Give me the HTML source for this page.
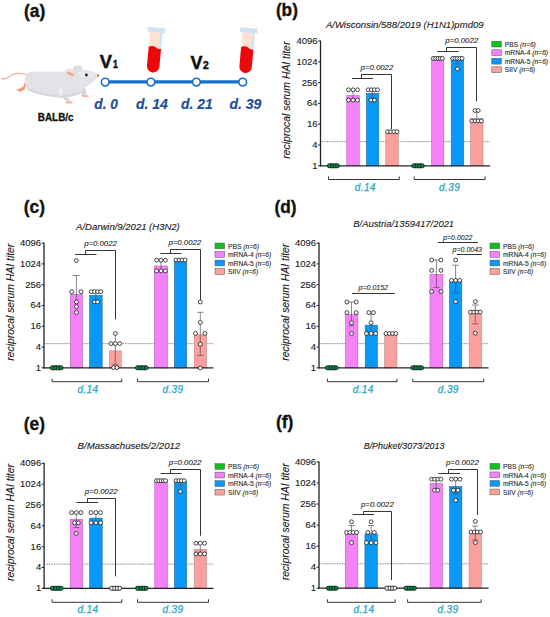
<!DOCTYPE html>
<html><head><meta charset="utf-8"><title>Figure</title>
<style>
html,body{margin:0;padding:0;background:#fff;}
body{width:550px;height:617px;overflow:hidden;}
svg{display:block;font-family:"Liberation Sans",sans-serif;}
</style></head>
<body>
<svg width="550" height="617" viewBox="0 0 550 617">
<rect width="550" height="617" fill="#fff"/>
<text x="24" y="16.5" font-size="17.5" text-anchor="start" font-weight="bold" fill="#111" textLength="21.2" lengthAdjust="spacingAndGlyphs" stroke="#111" stroke-width="0.4">(a)</text>
<g>
<path d="M2,78.4 C4,79.4 6.5,78.6 9,76.6 C11.5,74.6 14,73.4 17.5,73.2 C21,73 24,74.2 28,74.4" fill="none" stroke="#f4a285" stroke-width="1.1" stroke-linecap="round"/>
<path d="M25.2,81 L23.4,86.5 L20.5,88.3 L16.8,89.4 L16.6,90.6 L19.2,90.6 L18.6,92 L21.2,91.6 L24.6,89.2 L26.6,84 Z" fill="#f7956f"/>
<path d="M57.5,87 L63.5,87 L66.5,96.5 L70.5,100.5 L66.5,101.6 L62,97 Z" fill="#d9d9dd"/>
<path d="M65.6,101.2 L72.4,101.3 L72.2,103.6 L66,103.5 Z" fill="#f7b69a"/>
<path d="M79.5,88 L85,87.5 L86.5,95.2 L82,95.4 Z" fill="#d6d6da"/>
<path d="M82,94.9 L88.7,95.2 L88.5,97 L82.2,96.9 Z" fill="#f7b69a"/>
<ellipse cx="77.7" cy="68.4" rx="4.7" ry="2.8" fill="#dcdce0" transform="rotate(-3 77.7 68.4)"/>
<path d="M30,71.8 C36,71.2 44,71.4 50,71.5 L64,71.6 C66,71 68,70.5 70,70.8 L80,69.6 C86,70 91,71 94,72.5 C96,73.2 97.5,74 98.4,75.6 C97.5,78 95.5,80 94,81 C91,83.5 88,85.5 84.5,88 C83,90 82,92 80.5,93.5 C76,95.5 70,97.5 64,97.8 C50,97 38,94.5 30,91.5 C27,89.8 25,86.5 24.8,81 C24.7,76.5 26.5,72.6 30,71.8 Z" fill="#e3e3e7"/>
<path d="M26,86 C32,90.5 42,93.5 56,94.8 C64,95.3 72,94.2 80,91.5 L80.5,93.5 C76,95.5 70,97.5 64,97.8 C50,97 38,94.5 30,91.5 C27.5,89.8 26.4,88 26,86 Z" fill="#d8d8dd"/>
<path d="M59.3,87.2 L62.4,87.2 L62.4,96.4 L59.5,96.2 Z" fill="#eeeef1"/>
<path d="M78,72 C84,71.5 91,72.2 95,74.2 C93,76.5 88,77.5 82,77 C79,76.3 77.5,74 78,72 Z" fill="#e9e9ed"/>
<ellipse cx="69.8" cy="72.2" rx="4.7" ry="3.3" fill="#e7e7eb" stroke="#d6d6da" stroke-width="0.4" transform="rotate(14 69.8 72.2)"/>
<ellipse cx="70.3" cy="73.8" rx="3.9" ry="1.35" fill="#f5a182" transform="rotate(22 70.3 73.8)"/>
<circle cx="86.4" cy="75.0" r="1.4" fill="#1a1a1a"/>
<ellipse cx="98.2" cy="75.5" rx="1.1" ry="1.7" fill="#f0795a"/>
</g>
<text x="37.8" y="120.9" font-size="11.2" text-anchor="start" font-weight="bold" fill="#111" textLength="35.8" lengthAdjust="spacingAndGlyphs" stroke="#111" stroke-width="0.3">BALB/c</text>
<line x1="105.3" y1="81.9" x2="242.7" y2="81.9" stroke="#176fcc" stroke-width="3.4" />
<circle cx="105.2" cy="82.1" r="3.85" fill="#fff" stroke="#176fcc" stroke-width="1.6"/>
<circle cx="150.9" cy="82.1" r="3.85" fill="#fff" stroke="#176fcc" stroke-width="1.6"/>
<circle cx="196.4" cy="82.1" r="3.85" fill="#fff" stroke="#176fcc" stroke-width="1.6"/>
<circle cx="242.7" cy="82.1" r="3.85" fill="#fff" stroke="#176fcc" stroke-width="1.6"/>
<text x="99.7" y="67.6" font-size="18.6" text-anchor="start" font-weight="bold" fill="#111" textLength="12.2" lengthAdjust="spacingAndGlyphs" stroke="#111" stroke-width="0.5">V</text>
<text x="112.9" y="67.6" font-size="10.4" text-anchor="start" font-weight="bold" fill="#111" textLength="4.8" lengthAdjust="spacingAndGlyphs" stroke="#111" stroke-width="0.5">1</text>
<text x="190.6" y="68.7" font-size="18.6" text-anchor="start" font-weight="bold" fill="#111" textLength="12" lengthAdjust="spacingAndGlyphs" stroke="#111" stroke-width="0.5">V</text>
<text x="203" y="68.7" font-size="10.4" text-anchor="start" font-weight="bold" fill="#111" textLength="5.7" lengthAdjust="spacingAndGlyphs" stroke="#111" stroke-width="0.5">2</text>
<text x="94.3" y="108.5" font-size="13.8" text-anchor="start" font-style="italic" font-weight="bold" fill="#1c4f9c" textLength="23.6" lengthAdjust="spacingAndGlyphs" stroke="#1c4f9c" stroke-width="0.2">d. 0</text>
<text x="136" y="108.5" font-size="13.8" text-anchor="start" font-style="italic" font-weight="bold" fill="#1c4f9c" textLength="31.8" lengthAdjust="spacingAndGlyphs" stroke="#1c4f9c" stroke-width="0.2">d. 14</text>
<text x="181" y="108.5" font-size="13.8" text-anchor="start" font-style="italic" font-weight="bold" fill="#1c4f9c" textLength="31.6" lengthAdjust="spacingAndGlyphs" stroke="#1c4f9c" stroke-width="0.2">d. 21</text>
<text x="229.4" y="108.5" font-size="13.8" text-anchor="start" font-style="italic" font-weight="bold" fill="#1c4f9c" textLength="32" lengthAdjust="spacingAndGlyphs" stroke="#1c4f9c" stroke-width="0.2">d. 39</text>
<g transform="translate(156.3,32.2) rotate(5.2)">
<path d="M-6.2,0 L6.2,0 L6.2,34.3 A6.2,6.2 0 0 1 -6.2,34.3 Z" fill="#fde1d3"/>
<path d="M-6.2,15 C-3.2,13.6 -1,13.8 1,15.2 C3,16.6 4.2,16.8 6.2,16.2 L6.2,34.3 A6.2,6.2 0 0 1 -6.2,34.3 Z" fill="#ec0808"/>
<path d="M4.0,0 L6.2,0 L6.2,16.2 L4.0,16.6 Z" fill="#cfe3f4"/>
<rect x="-8.8" y="-4.6" width="17.6" height="4.8" fill="#cfe3f4"/>
</g>
<g transform="translate(248.6,32.6) rotate(5.0)">
<path d="M-6.2,0 L6.2,0 L6.2,34.3 A6.2,6.2 0 0 1 -6.2,34.3 Z" fill="#fde1d3"/>
<path d="M-6.2,15 C-3.2,13.6 -1,13.8 1,15.2 C3,16.6 4.2,16.8 6.2,16.2 L6.2,34.3 A6.2,6.2 0 0 1 -6.2,34.3 Z" fill="#ec0808"/>
<path d="M4.0,0 L6.2,0 L6.2,16.2 L4.0,16.6 Z" fill="#cfe3f4"/>
<rect x="-8.8" y="-4.6" width="17.6" height="4.8" fill="#cfe3f4"/>
</g>
<text x="325.9" y="28.1" font-size="9.5" text-anchor="start" font-style="italic" fill="#1a1a1a" textLength="157.7" lengthAdjust="spacingAndGlyphs" stroke="#1a1a1a" stroke-width="0.12">A/Wisconsin/588/2019 (H1N1)pmd09</text>
<text x="0" y="0" font-size="10.4" font-style="italic" fill="#1a1a1a" stroke="#1a1a1a" stroke-width="0.12" text-anchor="middle" textLength="117" lengthAdjust="spacingAndGlyphs" transform="translate(290.4,100.15) rotate(-90)">reciprocal serum HAI titer</text>
<line x1="318.1" y1="165.8" x2="320.5" y2="165.8" stroke="#222" stroke-width="1.0" />
<text x="317.6" y="168.75" font-size="9.5" text-anchor="end" fill="#1a1a1a" stroke="#1a1a1a" stroke-width="0.12">1</text>
<line x1="318.1" y1="145" x2="320.5" y2="145" stroke="#222" stroke-width="1.0" />
<text x="317.6" y="147.95" font-size="9.5" text-anchor="end" fill="#1a1a1a" stroke="#1a1a1a" stroke-width="0.12">4</text>
<line x1="318.1" y1="124.2" x2="320.5" y2="124.2" stroke="#222" stroke-width="1.0" />
<text x="317.6" y="127.15" font-size="9.5" text-anchor="end" fill="#1a1a1a" stroke="#1a1a1a" stroke-width="0.12">16</text>
<line x1="318.1" y1="103.4" x2="320.5" y2="103.4" stroke="#222" stroke-width="1.0" />
<text x="317.6" y="106.35" font-size="9.5" text-anchor="end" fill="#1a1a1a" stroke="#1a1a1a" stroke-width="0.12">64</text>
<line x1="318.1" y1="82.6" x2="320.5" y2="82.6" stroke="#222" stroke-width="1.0" />
<text x="317.6" y="85.55" font-size="9.5" text-anchor="end" fill="#1a1a1a" stroke="#1a1a1a" stroke-width="0.12">256</text>
<line x1="318.1" y1="61.8" x2="320.5" y2="61.8" stroke="#222" stroke-width="1.0" />
<text x="317.6" y="64.75" font-size="9.5" text-anchor="end" fill="#1a1a1a" stroke="#1a1a1a" stroke-width="0.12">1024</text>
<line x1="318.1" y1="41" x2="320.5" y2="41" stroke="#222" stroke-width="1.0" />
<text x="317.6" y="43.95" font-size="9.5" text-anchor="end" fill="#1a1a1a" stroke="#1a1a1a" stroke-width="0.12">4096</text>
<line x1="320.5" y1="141.65" x2="490.1" y2="141.65" stroke="#6a6a6a" stroke-width="0.9" stroke-dasharray="0.9,0.75"/>
<rect x="346.8" y="95.5" width="12.4" height="70.3" fill="#f582f8" stroke="#a864b0" stroke-width="0.6"/>
<rect x="366.4" y="93.3" width="12.4" height="72.5" fill="#0898f6" stroke="#2a6a9a" stroke-width="0.6"/>
<rect x="385.8" y="132.5" width="12.5" height="33.3" fill="#fca09d" stroke="#b88a88" stroke-width="0.6"/>
<rect x="431.7" y="59.2" width="12.1" height="106.6" fill="#f582f8" stroke="#a864b0" stroke-width="0.6"/>
<rect x="451.2" y="59.2" width="12.4" height="106.6" fill="#0898f6" stroke="#2a6a9a" stroke-width="0.6"/>
<rect x="470.6" y="118.5" width="12.4" height="47.3" fill="#fca09d" stroke="#b88a88" stroke-width="0.6"/>
<line x1="320.5" y1="40.5" x2="320.5" y2="166.4" stroke="#222" stroke-width="1.3" />
<line x1="319.9" y1="165.8" x2="490.1" y2="165.8" stroke="#222" stroke-width="1.3" />
<line x1="353" y1="89.8" x2="353" y2="100.1" stroke="#555" stroke-width="0.7" />
<line x1="372.6" y1="89.8" x2="372.6" y2="100.1" stroke="#555" stroke-width="0.7" />
<line x1="457.4" y1="58.4" x2="457.4" y2="64" stroke="#555" stroke-width="0.7" />
<line x1="454.4" y1="64" x2="460.4" y2="64" stroke="#555" stroke-width="0.7" />
<line x1="476.8" y1="110.5" x2="476.8" y2="118.2" stroke="#555" stroke-width="0.7" />
<circle cx="348.5" cy="89.8" r="1.95" fill="#fff" stroke="#1a1a1a" stroke-width="0.8"/>
<circle cx="353" cy="89.8" r="1.95" fill="#fff" stroke="#1a1a1a" stroke-width="0.8"/>
<circle cx="357.5" cy="89.8" r="1.95" fill="#fff" stroke="#1a1a1a" stroke-width="0.8"/>
<circle cx="348.5" cy="100.1" r="1.95" fill="#fff" stroke="#1a1a1a" stroke-width="0.8"/>
<circle cx="353" cy="100.1" r="1.95" fill="#fff" stroke="#1a1a1a" stroke-width="0.8"/>
<circle cx="357.5" cy="100.1" r="1.95" fill="#fff" stroke="#1a1a1a" stroke-width="0.8"/>
<circle cx="368.2" cy="89.8" r="1.95" fill="#fff" stroke="#1a1a1a" stroke-width="0.8"/>
<circle cx="371.3" cy="89.8" r="1.95" fill="#fff" stroke="#1a1a1a" stroke-width="0.8"/>
<circle cx="374.5" cy="89.8" r="1.95" fill="#fff" stroke="#1a1a1a" stroke-width="0.8"/>
<circle cx="377.6" cy="89.8" r="1.95" fill="#fff" stroke="#1a1a1a" stroke-width="0.8"/>
<circle cx="371" cy="100.1" r="1.95" fill="#fff" stroke="#1a1a1a" stroke-width="0.8"/>
<circle cx="374.4" cy="100.1" r="1.95" fill="#fff" stroke="#1a1a1a" stroke-width="0.8"/>
<circle cx="387.5" cy="131.7" r="1.95" fill="#fff" stroke="#1a1a1a" stroke-width="0.8"/>
<circle cx="390.7" cy="131.7" r="1.95" fill="#fff" stroke="#1a1a1a" stroke-width="0.8"/>
<circle cx="393.9" cy="131.7" r="1.95" fill="#fff" stroke="#1a1a1a" stroke-width="0.8"/>
<circle cx="397" cy="131.7" r="1.95" fill="#fff" stroke="#1a1a1a" stroke-width="0.8"/>
<circle cx="433.4" cy="58.4" r="1.95" fill="#fff" stroke="#1a1a1a" stroke-width="0.8"/>
<circle cx="435.7" cy="58.4" r="1.95" fill="#fff" stroke="#1a1a1a" stroke-width="0.8"/>
<circle cx="438" cy="58.4" r="1.95" fill="#fff" stroke="#1a1a1a" stroke-width="0.8"/>
<circle cx="440.2" cy="58.4" r="1.95" fill="#fff" stroke="#1a1a1a" stroke-width="0.8"/>
<circle cx="442.4" cy="58.4" r="1.95" fill="#fff" stroke="#1a1a1a" stroke-width="0.8"/>
<circle cx="452.6" cy="58.4" r="1.95" fill="#fff" stroke="#1a1a1a" stroke-width="0.8"/>
<circle cx="455" cy="58.4" r="1.95" fill="#fff" stroke="#1a1a1a" stroke-width="0.8"/>
<circle cx="457.4" cy="58.4" r="1.95" fill="#fff" stroke="#1a1a1a" stroke-width="0.8"/>
<circle cx="459.8" cy="58.4" r="1.95" fill="#fff" stroke="#1a1a1a" stroke-width="0.8"/>
<circle cx="462.1" cy="58.4" r="1.95" fill="#fff" stroke="#1a1a1a" stroke-width="0.8"/>
<circle cx="457.4" cy="68.9" r="1.95" fill="#fff" stroke="#1a1a1a" stroke-width="0.8"/>
<circle cx="475" cy="110.5" r="1.95" fill="#fff" stroke="#1a1a1a" stroke-width="0.8"/>
<circle cx="478.2" cy="110.5" r="1.95" fill="#fff" stroke="#1a1a1a" stroke-width="0.8"/>
<circle cx="471.8" cy="120.9" r="1.95" fill="#fff" stroke="#1a1a1a" stroke-width="0.8"/>
<circle cx="475" cy="120.9" r="1.95" fill="#fff" stroke="#1a1a1a" stroke-width="0.8"/>
<circle cx="478.2" cy="120.9" r="1.95" fill="#fff" stroke="#1a1a1a" stroke-width="0.8"/>
<circle cx="481.4" cy="120.9" r="1.95" fill="#fff" stroke="#1a1a1a" stroke-width="0.8"/>
<rect x="327.35" y="163.85" width="12" height="3.9" rx="1.95" fill="#0c8a48" stroke="#0a1a10" stroke-width="0.9"/>
<line x1="330.77" y1="164.05" x2="330.77" y2="167.55" stroke="#0a1a10" stroke-width="0.8" />
<line x1="333.35" y1="164.05" x2="333.35" y2="167.55" stroke="#0a1a10" stroke-width="0.8" />
<line x1="335.93" y1="164.05" x2="335.93" y2="167.55" stroke="#0a1a10" stroke-width="0.8" />
<rect x="411.75" y="163.85" width="12.5" height="3.9" rx="1.95" fill="#0c8a48" stroke="#0a1a10" stroke-width="0.9"/>
<line x1="415.32" y1="164.05" x2="415.32" y2="167.55" stroke="#0a1a10" stroke-width="0.8" />
<line x1="418" y1="164.05" x2="418" y2="167.55" stroke="#0a1a10" stroke-width="0.8" />
<line x1="420.68" y1="164.05" x2="420.68" y2="167.55" stroke="#0a1a10" stroke-width="0.8" />
<polyline points="328.5,176.5 328.5,179.5 399.3,179.5 399.3,176.5" fill="none" stroke="#333" stroke-width="1.0"/>
<text x="365.1" y="190.5" font-size="10" text-anchor="middle" font-style="italic" fill="#27a4c8" textLength="20.6" lengthAdjust="spacing" stroke="#27a4c8" stroke-width="0.25">d.14</text>
<polyline points="414.2,176.5 414.2,179.5 485.1,179.5 485.1,176.5" fill="none" stroke="#333" stroke-width="1.0"/>
<text x="449.4" y="190.5" font-size="10" text-anchor="middle" font-style="italic" fill="#27a4c8" textLength="20.6" lengthAdjust="spacing" stroke="#27a4c8" stroke-width="0.25">d.39</text>
<polyline points="352.1,78.5 373,78.5" fill="none" stroke="#2a2a2a" stroke-width="0.95"/>
<polyline points="361.5,78.5 361.5,74.5 391.5,74.5 391.5,129.2" fill="none" stroke="#2a2a2a" stroke-width="0.95"/>
<text x="376.9" y="70.2" font-size="7.8" text-anchor="middle" font-style="italic" fill="#222" stroke="#222" stroke-width="0.1">p=0.0022</text>
<polyline points="437.2,51.5 458.7,51.5" fill="none" stroke="#2a2a2a" stroke-width="0.95"/>
<polyline points="446.5,51.5 446.5,47.5 476.5,47.5 476.5,101.3" fill="none" stroke="#2a2a2a" stroke-width="0.95"/>
<text x="461.7" y="43.3" font-size="7.8" text-anchor="middle" font-style="italic" fill="#222" stroke="#222" stroke-width="0.1">p=0.0022</text>
<rect x="491.8" y="41.2" width="9.6" height="5.8" fill="#10c020" stroke="#555" stroke-width="0.5"/>
<text x="504.8" y="46.8" font-size="6.7" fill="#2a2a2a" stroke="#2a2a2a" stroke-width="0.12">PBS <tspan font-style="italic">(n=6)</tspan></text>
<rect x="491.8" y="49.75" width="9.6" height="5.8" fill="#f582f8" stroke="#555" stroke-width="0.5"/>
<text x="504.8" y="55.35" font-size="6.7" fill="#2a2a2a" stroke="#2a2a2a" stroke-width="0.12">mRNA-4 <tspan font-style="italic">(n=6)</tspan></text>
<rect x="491.8" y="58.3" width="9.6" height="5.8" fill="#0898f6" stroke="#555" stroke-width="0.5"/>
<text x="504.8" y="63.9" font-size="6.7" fill="#2a2a2a" stroke="#2a2a2a" stroke-width="0.12">mRNA-5 <tspan font-style="italic">(n=6)</tspan></text>
<rect x="491.8" y="66.85" width="9.6" height="5.8" fill="#fca09d" stroke="#555" stroke-width="0.5"/>
<text x="504.8" y="72.45" font-size="6.7" fill="#2a2a2a" stroke="#2a2a2a" stroke-width="0.12">SIIV <tspan font-style="italic">(n=6)</tspan></text>
<text x="76.1" y="230.2" font-size="9.5" text-anchor="start" font-style="italic" fill="#1a1a1a" textLength="103.7" lengthAdjust="spacingAndGlyphs" stroke="#1a1a1a" stroke-width="0.12">A/Darwin/9/2021 (H3N2)</text>
<text x="0" y="0" font-size="10.4" font-style="italic" fill="#1a1a1a" stroke="#1a1a1a" stroke-width="0.12" text-anchor="middle" textLength="117" lengthAdjust="spacingAndGlyphs" transform="translate(13.9,302.2) rotate(-90)">reciprocal serum HAI titer</text>
<line x1="41.6" y1="367.8" x2="44" y2="367.8" stroke="#222" stroke-width="1.0" />
<text x="41.1" y="370.75" font-size="9.5" text-anchor="end" fill="#1a1a1a" stroke="#1a1a1a" stroke-width="0.12">1</text>
<line x1="41.6" y1="347.02" x2="44" y2="347.02" stroke="#222" stroke-width="1.0" />
<text x="41.1" y="349.97" font-size="9.5" text-anchor="end" fill="#1a1a1a" stroke="#1a1a1a" stroke-width="0.12">4</text>
<line x1="41.6" y1="326.23" x2="44" y2="326.23" stroke="#222" stroke-width="1.0" />
<text x="41.1" y="329.18" font-size="9.5" text-anchor="end" fill="#1a1a1a" stroke="#1a1a1a" stroke-width="0.12">16</text>
<line x1="41.6" y1="305.45" x2="44" y2="305.45" stroke="#222" stroke-width="1.0" />
<text x="41.1" y="308.4" font-size="9.5" text-anchor="end" fill="#1a1a1a" stroke="#1a1a1a" stroke-width="0.12">64</text>
<line x1="41.6" y1="284.67" x2="44" y2="284.67" stroke="#222" stroke-width="1.0" />
<text x="41.1" y="287.62" font-size="9.5" text-anchor="end" fill="#1a1a1a" stroke="#1a1a1a" stroke-width="0.12">256</text>
<line x1="41.6" y1="263.88" x2="44" y2="263.88" stroke="#222" stroke-width="1.0" />
<text x="41.1" y="266.83" font-size="9.5" text-anchor="end" fill="#1a1a1a" stroke="#1a1a1a" stroke-width="0.12">1024</text>
<line x1="41.6" y1="243.1" x2="44" y2="243.1" stroke="#222" stroke-width="1.0" />
<text x="41.1" y="246.05" font-size="9.5" text-anchor="end" fill="#1a1a1a" stroke="#1a1a1a" stroke-width="0.12">4096</text>
<line x1="44" y1="343.67" x2="213.4" y2="343.67" stroke="#6a6a6a" stroke-width="0.9" stroke-dasharray="0.9,0.75"/>
<rect x="70.3" y="294.4" width="12.1" height="73.4" fill="#f582f8" stroke="#a864b0" stroke-width="0.6"/>
<rect x="89.6" y="295.3" width="12.6" height="72.5" fill="#0898f6" stroke="#2a6a9a" stroke-width="0.6"/>
<rect x="109.5" y="350.9" width="11.7" height="16.9" fill="#fca09d" stroke="#b88a88" stroke-width="0.6"/>
<rect x="154.4" y="266" width="13" height="101.8" fill="#f582f8" stroke="#a864b0" stroke-width="0.6"/>
<rect x="174.4" y="260.8" width="12.3" height="107" fill="#0898f6" stroke="#2a6a9a" stroke-width="0.6"/>
<rect x="194.2" y="334.8" width="12.3" height="33" fill="#fca09d" stroke="#b88a88" stroke-width="0.6"/>
<line x1="44" y1="242.6" x2="44" y2="368.4" stroke="#222" stroke-width="1.3" />
<line x1="43.4" y1="367.8" x2="213.4" y2="367.8" stroke="#222" stroke-width="1.3" />
<line x1="76.4" y1="275.5" x2="76.4" y2="300" stroke="#555" stroke-width="0.7" />
<line x1="73" y1="275.5" x2="79.8" y2="275.5" stroke="#555" stroke-width="0.7" />
<line x1="95.9" y1="291.7" x2="95.9" y2="301.9" stroke="#555" stroke-width="0.7" />
<line x1="115.3" y1="333.5" x2="115.3" y2="364.4" stroke="#555" stroke-width="0.7" />
<line x1="112.3" y1="364.4" x2="118.3" y2="364.4" stroke="#555" stroke-width="0.7" />
<line x1="161" y1="260.2" x2="161" y2="270.9" stroke="#555" stroke-width="0.7" />
<line x1="200.3" y1="312.3" x2="200.3" y2="355.5" stroke="#555" stroke-width="0.7" />
<line x1="197.1" y1="312.3" x2="203.5" y2="312.3" stroke="#555" stroke-width="0.7" />
<line x1="197.1" y1="355.5" x2="203.5" y2="355.5" stroke="#555" stroke-width="0.7" />
<circle cx="76.4" cy="260.5" r="1.95" fill="#fff" stroke="#1a1a1a" stroke-width="0.8"/>
<circle cx="71.7" cy="291.7" r="1.95" fill="#fff" stroke="#1a1a1a" stroke-width="0.8"/>
<circle cx="81" cy="291.7" r="1.95" fill="#fff" stroke="#1a1a1a" stroke-width="0.8"/>
<circle cx="76.4" cy="301.9" r="1.95" fill="#fff" stroke="#1a1a1a" stroke-width="0.8"/>
<circle cx="76.4" cy="306.6" r="1.95" fill="#fff" stroke="#1a1a1a" stroke-width="0.8"/>
<circle cx="76.4" cy="312.4" r="1.95" fill="#fff" stroke="#1a1a1a" stroke-width="0.8"/>
<circle cx="91.2" cy="291.7" r="1.95" fill="#fff" stroke="#1a1a1a" stroke-width="0.8"/>
<circle cx="94.4" cy="291.7" r="1.95" fill="#fff" stroke="#1a1a1a" stroke-width="0.8"/>
<circle cx="97.6" cy="291.7" r="1.95" fill="#fff" stroke="#1a1a1a" stroke-width="0.8"/>
<circle cx="100.8" cy="291.7" r="1.95" fill="#fff" stroke="#1a1a1a" stroke-width="0.8"/>
<circle cx="94.5" cy="301.9" r="1.95" fill="#fff" stroke="#1a1a1a" stroke-width="0.8"/>
<circle cx="97.6" cy="301.9" r="1.95" fill="#fff" stroke="#1a1a1a" stroke-width="0.8"/>
<circle cx="115.3" cy="333.5" r="1.95" fill="#fff" stroke="#1a1a1a" stroke-width="0.8"/>
<circle cx="111" cy="343.6" r="1.95" fill="#fff" stroke="#1a1a1a" stroke-width="0.8"/>
<circle cx="115.3" cy="343.6" r="1.95" fill="#fff" stroke="#1a1a1a" stroke-width="0.8"/>
<circle cx="119.7" cy="343.6" r="1.95" fill="#fff" stroke="#1a1a1a" stroke-width="0.8"/>
<circle cx="113.6" cy="367.6" r="1.95" fill="#fff" stroke="#1a1a1a" stroke-width="0.8"/>
<circle cx="117" cy="367.6" r="1.95" fill="#fff" stroke="#1a1a1a" stroke-width="0.8"/>
<circle cx="156.6" cy="260.2" r="1.95" fill="#fff" stroke="#1a1a1a" stroke-width="0.8"/>
<circle cx="161" cy="260.2" r="1.95" fill="#fff" stroke="#1a1a1a" stroke-width="0.8"/>
<circle cx="165.4" cy="260.2" r="1.95" fill="#fff" stroke="#1a1a1a" stroke-width="0.8"/>
<circle cx="156.6" cy="270.9" r="1.95" fill="#fff" stroke="#1a1a1a" stroke-width="0.8"/>
<circle cx="161" cy="270.9" r="1.95" fill="#fff" stroke="#1a1a1a" stroke-width="0.8"/>
<circle cx="165.4" cy="270.9" r="1.95" fill="#fff" stroke="#1a1a1a" stroke-width="0.8"/>
<circle cx="176" cy="260" r="1.95" fill="#fff" stroke="#1a1a1a" stroke-width="0.8"/>
<circle cx="179" cy="260" r="1.95" fill="#fff" stroke="#1a1a1a" stroke-width="0.8"/>
<circle cx="182" cy="260" r="1.95" fill="#fff" stroke="#1a1a1a" stroke-width="0.8"/>
<circle cx="185" cy="260" r="1.95" fill="#fff" stroke="#1a1a1a" stroke-width="0.8"/>
<circle cx="200.3" cy="302" r="1.95" fill="#fff" stroke="#1a1a1a" stroke-width="0.8"/>
<circle cx="200.3" cy="322.5" r="1.95" fill="#fff" stroke="#1a1a1a" stroke-width="0.8"/>
<circle cx="195.5" cy="333.4" r="1.95" fill="#fff" stroke="#1a1a1a" stroke-width="0.8"/>
<circle cx="205" cy="333.4" r="1.95" fill="#fff" stroke="#1a1a1a" stroke-width="0.8"/>
<circle cx="200.3" cy="344.1" r="1.95" fill="#fff" stroke="#1a1a1a" stroke-width="0.8"/>
<circle cx="200.3" cy="368" r="1.95" fill="#fff" stroke="#1a1a1a" stroke-width="0.8"/>
<rect x="50.25" y="365.85" width="12.9" height="3.9" rx="1.95" fill="#0c8a48" stroke="#0a1a10" stroke-width="0.9"/>
<line x1="53.94" y1="366.05" x2="53.94" y2="369.55" stroke="#0a1a10" stroke-width="0.8" />
<line x1="56.7" y1="366.05" x2="56.7" y2="369.55" stroke="#0a1a10" stroke-width="0.8" />
<line x1="59.46" y1="366.05" x2="59.46" y2="369.55" stroke="#0a1a10" stroke-width="0.8" />
<rect x="135.45" y="365.85" width="12.7" height="3.9" rx="1.95" fill="#0c8a48" stroke="#0a1a10" stroke-width="0.9"/>
<line x1="139.08" y1="366.05" x2="139.08" y2="369.55" stroke="#0a1a10" stroke-width="0.8" />
<line x1="141.8" y1="366.05" x2="141.8" y2="369.55" stroke="#0a1a10" stroke-width="0.8" />
<line x1="144.52" y1="366.05" x2="144.52" y2="369.55" stroke="#0a1a10" stroke-width="0.8" />
<polyline points="52.1,378.7 52.1,381.7 121.8,381.7 121.8,378.7" fill="none" stroke="#333" stroke-width="1.0"/>
<text x="87.7" y="392.7" font-size="10" text-anchor="middle" font-style="italic" fill="#27a4c8" textLength="20.6" lengthAdjust="spacing" stroke="#27a4c8" stroke-width="0.25">d.14</text>
<polyline points="137.5,378.7 137.5,381.7 208.5,381.7 208.5,378.7" fill="none" stroke="#333" stroke-width="1.0"/>
<text x="172.8" y="392.7" font-size="10" text-anchor="middle" font-style="italic" fill="#27a4c8" textLength="20.6" lengthAdjust="spacing" stroke="#27a4c8" stroke-width="0.25">d.39</text>
<polyline points="75.1,254.5 96.5,254.5" fill="none" stroke="#2a2a2a" stroke-width="0.95"/>
<polyline points="85.5,254.5 85.5,250.5 115.5,250.5 115.5,319.3" fill="none" stroke="#2a2a2a" stroke-width="0.95"/>
<text x="100.5" y="246.3" font-size="7.8" text-anchor="middle" font-style="italic" fill="#222" stroke="#222" stroke-width="0.1">p=0.0022</text>
<polyline points="160.5,253.5 181.4,253.5" fill="none" stroke="#2a2a2a" stroke-width="0.95"/>
<polyline points="170.5,253.5 170.5,249.5 200.5,249.5 200.5,300" fill="none" stroke="#2a2a2a" stroke-width="0.95"/>
<text x="184.8" y="244.7" font-size="7.8" text-anchor="middle" font-style="italic" fill="#222" stroke="#222" stroke-width="0.1">p=0.0022</text>
<rect x="215" y="243" width="9.6" height="5.8" fill="#10c020" stroke="#555" stroke-width="0.5"/>
<text x="228" y="248.6" font-size="6.7" fill="#2a2a2a" stroke="#2a2a2a" stroke-width="0.12">PBS <tspan font-style="italic">(n=6)</tspan></text>
<rect x="215" y="251.55" width="9.6" height="5.8" fill="#f582f8" stroke="#555" stroke-width="0.5"/>
<text x="228" y="257.15" font-size="6.7" fill="#2a2a2a" stroke="#2a2a2a" stroke-width="0.12">mRNA-4 <tspan font-style="italic">(n=6)</tspan></text>
<rect x="215" y="260.1" width="9.6" height="5.8" fill="#0898f6" stroke="#555" stroke-width="0.5"/>
<text x="228" y="265.7" font-size="6.7" fill="#2a2a2a" stroke="#2a2a2a" stroke-width="0.12">mRNA-5 <tspan font-style="italic">(n=6)</tspan></text>
<rect x="215" y="268.65" width="9.6" height="5.8" fill="#fca09d" stroke="#555" stroke-width="0.5"/>
<text x="228" y="274.25" font-size="6.7" fill="#2a2a2a" stroke="#2a2a2a" stroke-width="0.12">SIIV <tspan font-style="italic">(n=6)</tspan></text>
<text x="353.3" y="227" font-size="9.5" text-anchor="start" font-style="italic" fill="#1a1a1a" textLength="100.8" lengthAdjust="spacingAndGlyphs" stroke="#1a1a1a" stroke-width="0.12">B/Austria/1359417/2021</text>
<text x="0" y="0" font-size="10.4" font-style="italic" fill="#1a1a1a" stroke="#1a1a1a" stroke-width="0.12" text-anchor="middle" textLength="117" lengthAdjust="spacingAndGlyphs" transform="translate(288.9,302.2) rotate(-90)">reciprocal serum HAI titer</text>
<line x1="316.6" y1="367.8" x2="319" y2="367.8" stroke="#222" stroke-width="1.0" />
<text x="316.1" y="370.75" font-size="9.5" text-anchor="end" fill="#1a1a1a" stroke="#1a1a1a" stroke-width="0.12">1</text>
<line x1="316.6" y1="347.02" x2="319" y2="347.02" stroke="#222" stroke-width="1.0" />
<text x="316.1" y="349.97" font-size="9.5" text-anchor="end" fill="#1a1a1a" stroke="#1a1a1a" stroke-width="0.12">4</text>
<line x1="316.6" y1="326.23" x2="319" y2="326.23" stroke="#222" stroke-width="1.0" />
<text x="316.1" y="329.18" font-size="9.5" text-anchor="end" fill="#1a1a1a" stroke="#1a1a1a" stroke-width="0.12">16</text>
<line x1="316.6" y1="305.45" x2="319" y2="305.45" stroke="#222" stroke-width="1.0" />
<text x="316.1" y="308.4" font-size="9.5" text-anchor="end" fill="#1a1a1a" stroke="#1a1a1a" stroke-width="0.12">64</text>
<line x1="316.6" y1="284.67" x2="319" y2="284.67" stroke="#222" stroke-width="1.0" />
<text x="316.1" y="287.62" font-size="9.5" text-anchor="end" fill="#1a1a1a" stroke="#1a1a1a" stroke-width="0.12">256</text>
<line x1="316.6" y1="263.88" x2="319" y2="263.88" stroke="#222" stroke-width="1.0" />
<text x="316.1" y="266.83" font-size="9.5" text-anchor="end" fill="#1a1a1a" stroke="#1a1a1a" stroke-width="0.12">1024</text>
<line x1="316.6" y1="243.1" x2="319" y2="243.1" stroke="#222" stroke-width="1.0" />
<text x="316.1" y="246.05" font-size="9.5" text-anchor="end" fill="#1a1a1a" stroke="#1a1a1a" stroke-width="0.12">4096</text>
<line x1="319" y1="343.67" x2="488.6" y2="343.67" stroke="#6a6a6a" stroke-width="0.9" stroke-dasharray="0.9,0.75"/>
<rect x="345.7" y="314.5" width="12.2" height="53.3" fill="#f582f8" stroke="#a864b0" stroke-width="0.6"/>
<rect x="365.2" y="325.2" width="12.2" height="42.6" fill="#0898f6" stroke="#2a6a9a" stroke-width="0.6"/>
<rect x="384.6" y="333.8" width="12.3" height="34" fill="#fca09d" stroke="#b88a88" stroke-width="0.6"/>
<rect x="430" y="274.4" width="12.8" height="93.4" fill="#f582f8" stroke="#a864b0" stroke-width="0.6"/>
<rect x="449.5" y="280.7" width="12.3" height="87.1" fill="#0898f6" stroke="#2a6a9a" stroke-width="0.6"/>
<rect x="469.2" y="312.4" width="12.3" height="55.4" fill="#fca09d" stroke="#b88a88" stroke-width="0.6"/>
<line x1="319" y1="242.6" x2="319" y2="368.4" stroke="#222" stroke-width="1.3" />
<line x1="318.4" y1="367.8" x2="488.6" y2="367.8" stroke="#222" stroke-width="1.3" />
<line x1="351.5" y1="302" x2="351.5" y2="325.8" stroke="#555" stroke-width="0.7" />
<line x1="348.5" y1="302" x2="354.5" y2="302" stroke="#555" stroke-width="0.7" />
<line x1="348.5" y1="325.8" x2="354.5" y2="325.8" stroke="#555" stroke-width="0.7" />
<line x1="371.1" y1="312.6" x2="371.1" y2="333.5" stroke="#555" stroke-width="0.7" />
<line x1="436.4" y1="260" x2="436.4" y2="287.5" stroke="#555" stroke-width="0.7" />
<line x1="433.2" y1="260" x2="439.6" y2="260" stroke="#555" stroke-width="0.7" />
<line x1="433.2" y1="287.5" x2="439.6" y2="287.5" stroke="#555" stroke-width="0.7" />
<line x1="455.6" y1="265.2" x2="455.6" y2="292.9" stroke="#555" stroke-width="0.7" />
<line x1="452.4" y1="265.2" x2="458.8" y2="265.2" stroke="#555" stroke-width="0.7" />
<line x1="452.4" y1="292.9" x2="458.8" y2="292.9" stroke="#555" stroke-width="0.7" />
<line x1="475.3" y1="305" x2="475.3" y2="323.9" stroke="#555" stroke-width="0.7" />
<line x1="472.1" y1="305" x2="478.5" y2="305" stroke="#555" stroke-width="0.7" />
<line x1="472.1" y1="323.9" x2="478.5" y2="323.9" stroke="#555" stroke-width="0.7" />
<circle cx="346.9" cy="302" r="1.95" fill="#fff" stroke="#1a1a1a" stroke-width="0.8"/>
<circle cx="356.2" cy="302" r="1.95" fill="#fff" stroke="#1a1a1a" stroke-width="0.8"/>
<circle cx="346.9" cy="312.6" r="1.95" fill="#fff" stroke="#1a1a1a" stroke-width="0.8"/>
<circle cx="356.2" cy="312.6" r="1.95" fill="#fff" stroke="#1a1a1a" stroke-width="0.8"/>
<circle cx="351.5" cy="322.8" r="1.95" fill="#fff" stroke="#1a1a1a" stroke-width="0.8"/>
<circle cx="351.5" cy="333.5" r="1.95" fill="#fff" stroke="#1a1a1a" stroke-width="0.8"/>
<circle cx="368.9" cy="312.6" r="1.95" fill="#fff" stroke="#1a1a1a" stroke-width="0.8"/>
<circle cx="373.4" cy="312.6" r="1.95" fill="#fff" stroke="#1a1a1a" stroke-width="0.8"/>
<circle cx="371.1" cy="322.8" r="1.95" fill="#fff" stroke="#1a1a1a" stroke-width="0.8"/>
<circle cx="366.5" cy="333.5" r="1.95" fill="#fff" stroke="#1a1a1a" stroke-width="0.8"/>
<circle cx="371.1" cy="333.5" r="1.95" fill="#fff" stroke="#1a1a1a" stroke-width="0.8"/>
<circle cx="375.7" cy="333.5" r="1.95" fill="#fff" stroke="#1a1a1a" stroke-width="0.8"/>
<circle cx="386" cy="333.5" r="1.95" fill="#fff" stroke="#1a1a1a" stroke-width="0.8"/>
<circle cx="389.3" cy="333.5" r="1.95" fill="#fff" stroke="#1a1a1a" stroke-width="0.8"/>
<circle cx="392.6" cy="333.5" r="1.95" fill="#fff" stroke="#1a1a1a" stroke-width="0.8"/>
<circle cx="395.8" cy="333.5" r="1.95" fill="#fff" stroke="#1a1a1a" stroke-width="0.8"/>
<circle cx="431.6" cy="260" r="1.95" fill="#fff" stroke="#1a1a1a" stroke-width="0.8"/>
<circle cx="441" cy="260" r="1.95" fill="#fff" stroke="#1a1a1a" stroke-width="0.8"/>
<circle cx="431.6" cy="270.4" r="1.95" fill="#fff" stroke="#1a1a1a" stroke-width="0.8"/>
<circle cx="441" cy="270.4" r="1.95" fill="#fff" stroke="#1a1a1a" stroke-width="0.8"/>
<circle cx="431.6" cy="291.5" r="1.95" fill="#fff" stroke="#1a1a1a" stroke-width="0.8"/>
<circle cx="441" cy="291.5" r="1.95" fill="#fff" stroke="#1a1a1a" stroke-width="0.8"/>
<circle cx="455.6" cy="260" r="1.95" fill="#fff" stroke="#1a1a1a" stroke-width="0.8"/>
<circle cx="451.5" cy="280.4" r="1.95" fill="#fff" stroke="#1a1a1a" stroke-width="0.8"/>
<circle cx="455.6" cy="280.4" r="1.95" fill="#fff" stroke="#1a1a1a" stroke-width="0.8"/>
<circle cx="459.6" cy="280.4" r="1.95" fill="#fff" stroke="#1a1a1a" stroke-width="0.8"/>
<circle cx="455.6" cy="301.6" r="1.95" fill="#fff" stroke="#1a1a1a" stroke-width="0.8"/>
<circle cx="475.3" cy="301.6" r="1.95" fill="#fff" stroke="#1a1a1a" stroke-width="0.8"/>
<circle cx="470.6" cy="312.1" r="1.95" fill="#fff" stroke="#1a1a1a" stroke-width="0.8"/>
<circle cx="473.8" cy="312.1" r="1.95" fill="#fff" stroke="#1a1a1a" stroke-width="0.8"/>
<circle cx="477" cy="312.1" r="1.95" fill="#fff" stroke="#1a1a1a" stroke-width="0.8"/>
<circle cx="480.2" cy="312.1" r="1.95" fill="#fff" stroke="#1a1a1a" stroke-width="0.8"/>
<circle cx="475.3" cy="333.2" r="1.95" fill="#fff" stroke="#1a1a1a" stroke-width="0.8"/>
<rect x="325.45" y="365.85" width="12.7" height="3.9" rx="1.95" fill="#0c8a48" stroke="#0a1a10" stroke-width="0.9"/>
<line x1="329.08" y1="366.05" x2="329.08" y2="369.55" stroke="#0a1a10" stroke-width="0.8" />
<line x1="331.8" y1="366.05" x2="331.8" y2="369.55" stroke="#0a1a10" stroke-width="0.8" />
<line x1="334.52" y1="366.05" x2="334.52" y2="369.55" stroke="#0a1a10" stroke-width="0.8" />
<rect x="410.85" y="365.85" width="12.7" height="3.9" rx="1.95" fill="#0c8a48" stroke="#0a1a10" stroke-width="0.9"/>
<line x1="414.48" y1="366.05" x2="414.48" y2="369.55" stroke="#0a1a10" stroke-width="0.8" />
<line x1="417.2" y1="366.05" x2="417.2" y2="369.55" stroke="#0a1a10" stroke-width="0.8" />
<line x1="419.92" y1="366.05" x2="419.92" y2="369.55" stroke="#0a1a10" stroke-width="0.8" />
<polyline points="327.4,378.7 327.4,381.7 397,381.7 397,378.7" fill="none" stroke="#333" stroke-width="1.0"/>
<text x="363" y="392.7" font-size="10" text-anchor="middle" font-style="italic" fill="#27a4c8" textLength="20.6" lengthAdjust="spacing" stroke="#27a4c8" stroke-width="0.25">d.14</text>
<polyline points="412.8,378.7 412.8,381.7 483.8,381.7 483.8,378.7" fill="none" stroke="#333" stroke-width="1.0"/>
<text x="448.1" y="392.7" font-size="10" text-anchor="middle" font-style="italic" fill="#27a4c8" textLength="20.6" lengthAdjust="spacing" stroke="#27a4c8" stroke-width="0.25">d.39</text>
<polyline points="352,293.5 394.9,293.5" fill="none" stroke="#2a2a2a" stroke-width="0.95"/>
<text x="373.3" y="289.9" font-size="7.0" text-anchor="middle" font-style="italic" fill="#222" stroke="#222" stroke-width="0.1">p=0.0152</text>
<polyline points="437.9,242.5 477.8,242.5" fill="none" stroke="#2a2a2a" stroke-width="0.95"/>
<text x="457.8" y="239.8" font-size="7.0" text-anchor="middle" font-style="italic" fill="#222" stroke="#222" stroke-width="0.1">p=0.0022</text>
<polyline points="456.7,254.5 482,254.5" fill="none" stroke="#2a2a2a" stroke-width="0.95"/>
<text x="467.3" y="251.5" font-size="7.0" text-anchor="middle" font-style="italic" fill="#222" stroke="#222" stroke-width="0.1">p=0.0043</text>
<rect x="490" y="243" width="9.6" height="5.8" fill="#10c020" stroke="#555" stroke-width="0.5"/>
<text x="503" y="248.6" font-size="6.7" fill="#2a2a2a" stroke="#2a2a2a" stroke-width="0.12">PBS <tspan font-style="italic">(n=6)</tspan></text>
<rect x="490" y="251.55" width="9.6" height="5.8" fill="#f582f8" stroke="#555" stroke-width="0.5"/>
<text x="503" y="257.15" font-size="6.7" fill="#2a2a2a" stroke="#2a2a2a" stroke-width="0.12">mRNA-4 <tspan font-style="italic">(n=6)</tspan></text>
<rect x="490" y="260.1" width="9.6" height="5.8" fill="#0898f6" stroke="#555" stroke-width="0.5"/>
<text x="503" y="265.7" font-size="6.7" fill="#2a2a2a" stroke="#2a2a2a" stroke-width="0.12">mRNA-5 <tspan font-style="italic">(n=6)</tspan></text>
<rect x="490" y="268.65" width="9.6" height="5.8" fill="#fca09d" stroke="#555" stroke-width="0.5"/>
<text x="503" y="274.25" font-size="6.7" fill="#2a2a2a" stroke="#2a2a2a" stroke-width="0.12">SIIV <tspan font-style="italic">(n=6)</tspan></text>
<text x="77.6" y="448.5" font-size="9.5" text-anchor="start" font-style="italic" fill="#1a1a1a" textLength="102.6" lengthAdjust="spacingAndGlyphs" stroke="#1a1a1a" stroke-width="0.12">B/Massachusets/2/2012</text>
<text x="0" y="0" font-size="10.4" font-style="italic" fill="#1a1a1a" stroke="#1a1a1a" stroke-width="0.12" text-anchor="middle" textLength="117" lengthAdjust="spacingAndGlyphs" transform="translate(14,522.55) rotate(-90)">reciprocal serum HAI titer</text>
<line x1="41.7" y1="588.3" x2="44.1" y2="588.3" stroke="#222" stroke-width="1.0" />
<text x="41.2" y="591.25" font-size="9.5" text-anchor="end" fill="#1a1a1a" stroke="#1a1a1a" stroke-width="0.12">1</text>
<line x1="41.7" y1="567.47" x2="44.1" y2="567.47" stroke="#222" stroke-width="1.0" />
<text x="41.2" y="570.42" font-size="9.5" text-anchor="end" fill="#1a1a1a" stroke="#1a1a1a" stroke-width="0.12">4</text>
<line x1="41.7" y1="546.63" x2="44.1" y2="546.63" stroke="#222" stroke-width="1.0" />
<text x="41.2" y="549.58" font-size="9.5" text-anchor="end" fill="#1a1a1a" stroke="#1a1a1a" stroke-width="0.12">16</text>
<line x1="41.7" y1="525.8" x2="44.1" y2="525.8" stroke="#222" stroke-width="1.0" />
<text x="41.2" y="528.75" font-size="9.5" text-anchor="end" fill="#1a1a1a" stroke="#1a1a1a" stroke-width="0.12">64</text>
<line x1="41.7" y1="504.97" x2="44.1" y2="504.97" stroke="#222" stroke-width="1.0" />
<text x="41.2" y="507.92" font-size="9.5" text-anchor="end" fill="#1a1a1a" stroke="#1a1a1a" stroke-width="0.12">256</text>
<line x1="41.7" y1="484.13" x2="44.1" y2="484.13" stroke="#222" stroke-width="1.0" />
<text x="41.2" y="487.08" font-size="9.5" text-anchor="end" fill="#1a1a1a" stroke="#1a1a1a" stroke-width="0.12">1024</text>
<line x1="41.7" y1="463.3" x2="44.1" y2="463.3" stroke="#222" stroke-width="1.0" />
<text x="41.2" y="466.25" font-size="9.5" text-anchor="end" fill="#1a1a1a" stroke="#1a1a1a" stroke-width="0.12">4096</text>
<line x1="44.1" y1="564.11" x2="213.5" y2="564.11" stroke="#6a6a6a" stroke-width="0.9" stroke-dasharray="0.9,0.75"/>
<rect x="70.2" y="519.4" width="12.4" height="68.9" fill="#f582f8" stroke="#a864b0" stroke-width="0.6"/>
<rect x="89.7" y="518.1" width="12.5" height="70.2" fill="#0898f6" stroke="#2a6a9a" stroke-width="0.6"/>
<rect x="154.8" y="481.4" width="12.6" height="106.9" fill="#f582f8" stroke="#a864b0" stroke-width="0.6"/>
<rect x="174.4" y="481.2" width="12.3" height="107.1" fill="#0898f6" stroke="#2a6a9a" stroke-width="0.6"/>
<rect x="194.2" y="549.6" width="12.3" height="38.7" fill="#fca09d" stroke="#b88a88" stroke-width="0.6"/>
<line x1="44.1" y1="462.8" x2="44.1" y2="588.9" stroke="#222" stroke-width="1.3" />
<line x1="43.5" y1="588.3" x2="213.5" y2="588.3" stroke="#222" stroke-width="1.3" />
<line x1="76.3" y1="512.6" x2="76.3" y2="527.5" stroke="#555" stroke-width="0.7" />
<line x1="73.3" y1="527.5" x2="79.3" y2="527.5" stroke="#555" stroke-width="0.7" />
<line x1="95.9" y1="512.6" x2="95.9" y2="522.8" stroke="#555" stroke-width="0.7" />
<line x1="180.5" y1="480.7" x2="180.5" y2="485.7" stroke="#555" stroke-width="0.7" />
<line x1="177.5" y1="485.7" x2="183.5" y2="485.7" stroke="#555" stroke-width="0.7" />
<line x1="200.3" y1="543.2" x2="200.3" y2="553.9" stroke="#555" stroke-width="0.7" />
<circle cx="71.6" cy="512.6" r="1.95" fill="#fff" stroke="#1a1a1a" stroke-width="0.8"/>
<circle cx="76.3" cy="512.6" r="1.95" fill="#fff" stroke="#1a1a1a" stroke-width="0.8"/>
<circle cx="81" cy="512.6" r="1.95" fill="#fff" stroke="#1a1a1a" stroke-width="0.8"/>
<circle cx="74.5" cy="522.8" r="1.95" fill="#fff" stroke="#1a1a1a" stroke-width="0.8"/>
<circle cx="78.3" cy="522.8" r="1.95" fill="#fff" stroke="#1a1a1a" stroke-width="0.8"/>
<circle cx="76.3" cy="533.4" r="1.95" fill="#fff" stroke="#1a1a1a" stroke-width="0.8"/>
<circle cx="91.1" cy="512.6" r="1.95" fill="#fff" stroke="#1a1a1a" stroke-width="0.8"/>
<circle cx="95.9" cy="512.6" r="1.95" fill="#fff" stroke="#1a1a1a" stroke-width="0.8"/>
<circle cx="100.6" cy="512.6" r="1.95" fill="#fff" stroke="#1a1a1a" stroke-width="0.8"/>
<circle cx="91.1" cy="522.8" r="1.95" fill="#fff" stroke="#1a1a1a" stroke-width="0.8"/>
<circle cx="95.9" cy="522.8" r="1.95" fill="#fff" stroke="#1a1a1a" stroke-width="0.8"/>
<circle cx="100.6" cy="522.8" r="1.95" fill="#fff" stroke="#1a1a1a" stroke-width="0.8"/>
<circle cx="156.5" cy="480.7" r="1.95" fill="#fff" stroke="#1a1a1a" stroke-width="0.8"/>
<circle cx="158.8" cy="480.7" r="1.95" fill="#fff" stroke="#1a1a1a" stroke-width="0.8"/>
<circle cx="161.1" cy="480.7" r="1.95" fill="#fff" stroke="#1a1a1a" stroke-width="0.8"/>
<circle cx="163.4" cy="480.7" r="1.95" fill="#fff" stroke="#1a1a1a" stroke-width="0.8"/>
<circle cx="165.6" cy="480.7" r="1.95" fill="#fff" stroke="#1a1a1a" stroke-width="0.8"/>
<circle cx="176.1" cy="480.7" r="1.95" fill="#fff" stroke="#1a1a1a" stroke-width="0.8"/>
<circle cx="178.8" cy="480.7" r="1.95" fill="#fff" stroke="#1a1a1a" stroke-width="0.8"/>
<circle cx="181.4" cy="480.7" r="1.95" fill="#fff" stroke="#1a1a1a" stroke-width="0.8"/>
<circle cx="184.2" cy="480.7" r="1.95" fill="#fff" stroke="#1a1a1a" stroke-width="0.8"/>
<circle cx="180.3" cy="491.4" r="1.95" fill="#fff" stroke="#1a1a1a" stroke-width="0.8"/>
<circle cx="196" cy="543.2" r="1.95" fill="#fff" stroke="#1a1a1a" stroke-width="0.8"/>
<circle cx="200.3" cy="543.2" r="1.95" fill="#fff" stroke="#1a1a1a" stroke-width="0.8"/>
<circle cx="204.6" cy="543.2" r="1.95" fill="#fff" stroke="#1a1a1a" stroke-width="0.8"/>
<circle cx="196" cy="553.9" r="1.95" fill="#fff" stroke="#1a1a1a" stroke-width="0.8"/>
<circle cx="200.3" cy="553.9" r="1.95" fill="#fff" stroke="#1a1a1a" stroke-width="0.8"/>
<circle cx="204.6" cy="553.9" r="1.95" fill="#fff" stroke="#1a1a1a" stroke-width="0.8"/>
<rect x="50.25" y="586.35" width="12.9" height="3.9" rx="1.95" fill="#0c8a48" stroke="#0a1a10" stroke-width="0.9"/>
<line x1="53.94" y1="586.55" x2="53.94" y2="590.05" stroke="#0a1a10" stroke-width="0.8" />
<line x1="56.7" y1="586.55" x2="56.7" y2="590.05" stroke="#0a1a10" stroke-width="0.8" />
<line x1="59.46" y1="586.55" x2="59.46" y2="590.05" stroke="#0a1a10" stroke-width="0.8" />
<rect x="135.45" y="586.35" width="12.7" height="3.9" rx="1.95" fill="#0c8a48" stroke="#0a1a10" stroke-width="0.9"/>
<line x1="139.08" y1="586.55" x2="139.08" y2="590.05" stroke="#0a1a10" stroke-width="0.8" />
<line x1="141.8" y1="586.55" x2="141.8" y2="590.05" stroke="#0a1a10" stroke-width="0.8" />
<line x1="144.52" y1="586.55" x2="144.52" y2="590.05" stroke="#0a1a10" stroke-width="0.8" />
<rect x="109.45" y="586.35" width="12.2" height="3.9" rx="1.95" fill="#fafafa" stroke="#1a1a1a" stroke-width="0.9"/>
<line x1="112.93" y1="586.55" x2="112.93" y2="590.05" stroke="#1a1a1a" stroke-width="0.8" />
<line x1="115.55" y1="586.55" x2="115.55" y2="590.05" stroke="#1a1a1a" stroke-width="0.8" />
<line x1="118.17" y1="586.55" x2="118.17" y2="590.05" stroke="#1a1a1a" stroke-width="0.8" />
<polyline points="52.1,599.3 52.1,602.3 121.8,602.3 121.8,599.3" fill="none" stroke="#333" stroke-width="1.0"/>
<text x="87.7" y="613.3" font-size="10" text-anchor="middle" font-style="italic" fill="#27a4c8" textLength="20.6" lengthAdjust="spacing" stroke="#27a4c8" stroke-width="0.25">d.14</text>
<polyline points="137.5,599.3 137.5,602.3 208.5,602.3 208.5,599.3" fill="none" stroke="#333" stroke-width="1.0"/>
<text x="172.8" y="613.3" font-size="10" text-anchor="middle" font-style="italic" fill="#27a4c8" textLength="20.6" lengthAdjust="spacing" stroke="#27a4c8" stroke-width="0.25">d.39</text>
<polyline points="76.4,502.5 98.2,502.5" fill="none" stroke="#2a2a2a" stroke-width="0.95"/>
<polyline points="87.5,502.5 87.5,498.5 115.5,498.5 115.5,576.4" fill="none" stroke="#2a2a2a" stroke-width="0.95"/>
<text x="101.2" y="494.4" font-size="7.8" text-anchor="middle" font-style="italic" fill="#222" stroke="#222" stroke-width="0.1">p=0.0022</text>
<polyline points="160.5,473.5 181.4,473.5" fill="none" stroke="#2a2a2a" stroke-width="0.95"/>
<polyline points="170.5,473.5 170.5,469.5 200.5,469.5 200.5,535.7" fill="none" stroke="#2a2a2a" stroke-width="0.95"/>
<text x="185.1" y="465.4" font-size="7.8" text-anchor="middle" font-style="italic" fill="#222" stroke="#222" stroke-width="0.1">p=0.0022</text>
<rect x="215" y="463.6" width="9.6" height="5.8" fill="#10c020" stroke="#555" stroke-width="0.5"/>
<text x="228" y="469.2" font-size="6.7" fill="#2a2a2a" stroke="#2a2a2a" stroke-width="0.12">PBS <tspan font-style="italic">(n=6)</tspan></text>
<rect x="215" y="472.15" width="9.6" height="5.8" fill="#f582f8" stroke="#555" stroke-width="0.5"/>
<text x="228" y="477.75" font-size="6.7" fill="#2a2a2a" stroke="#2a2a2a" stroke-width="0.12">mRNA-4 <tspan font-style="italic">(n=6)</tspan></text>
<rect x="215" y="480.7" width="9.6" height="5.8" fill="#0898f6" stroke="#555" stroke-width="0.5"/>
<text x="228" y="486.3" font-size="6.7" fill="#2a2a2a" stroke="#2a2a2a" stroke-width="0.12">mRNA-5 <tspan font-style="italic">(n=6)</tspan></text>
<rect x="215" y="489.25" width="9.6" height="5.8" fill="#fca09d" stroke="#555" stroke-width="0.5"/>
<text x="228" y="494.85" font-size="6.7" fill="#2a2a2a" stroke="#2a2a2a" stroke-width="0.12">SIIV <tspan font-style="italic">(n=6)</tspan></text>
<text x="363.7" y="449.2" font-size="9.5" text-anchor="start" font-style="italic" fill="#1a1a1a" textLength="80.8" lengthAdjust="spacingAndGlyphs" stroke="#1a1a1a" stroke-width="0.12">B/Phuket/3073/2013</text>
<text x="0" y="0" font-size="10.4" font-style="italic" fill="#1a1a1a" stroke="#1a1a1a" stroke-width="0.12" text-anchor="middle" textLength="117" lengthAdjust="spacingAndGlyphs" transform="translate(288.9,521.8) rotate(-90)">reciprocal serum HAI titer</text>
<line x1="316.6" y1="588.2" x2="319" y2="588.2" stroke="#222" stroke-width="1.0" />
<text x="316.1" y="591.15" font-size="9.5" text-anchor="end" fill="#1a1a1a" stroke="#1a1a1a" stroke-width="0.12">1</text>
<line x1="316.6" y1="567.15" x2="319" y2="567.15" stroke="#222" stroke-width="1.0" />
<text x="316.1" y="570.1" font-size="9.5" text-anchor="end" fill="#1a1a1a" stroke="#1a1a1a" stroke-width="0.12">4</text>
<line x1="316.6" y1="546.1" x2="319" y2="546.1" stroke="#222" stroke-width="1.0" />
<text x="316.1" y="549.05" font-size="9.5" text-anchor="end" fill="#1a1a1a" stroke="#1a1a1a" stroke-width="0.12">16</text>
<line x1="316.6" y1="525.05" x2="319" y2="525.05" stroke="#222" stroke-width="1.0" />
<text x="316.1" y="528" font-size="9.5" text-anchor="end" fill="#1a1a1a" stroke="#1a1a1a" stroke-width="0.12">64</text>
<line x1="316.6" y1="504" x2="319" y2="504" stroke="#222" stroke-width="1.0" />
<text x="316.1" y="506.95" font-size="9.5" text-anchor="end" fill="#1a1a1a" stroke="#1a1a1a" stroke-width="0.12">256</text>
<line x1="316.6" y1="482.95" x2="319" y2="482.95" stroke="#222" stroke-width="1.0" />
<text x="316.1" y="485.9" font-size="9.5" text-anchor="end" fill="#1a1a1a" stroke="#1a1a1a" stroke-width="0.12">1024</text>
<line x1="316.6" y1="461.9" x2="319" y2="461.9" stroke="#222" stroke-width="1.0" />
<text x="316.1" y="464.85" font-size="9.5" text-anchor="end" fill="#1a1a1a" stroke="#1a1a1a" stroke-width="0.12">4096</text>
<line x1="319" y1="563.76" x2="488.6" y2="563.76" stroke="#6a6a6a" stroke-width="0.9" stroke-dasharray="0.9,0.75"/>
<rect x="345.3" y="533.9" width="12.5" height="54.3" fill="#f582f8" stroke="#a864b0" stroke-width="0.6"/>
<rect x="364.9" y="533.9" width="12.5" height="54.3" fill="#0898f6" stroke="#2a6a9a" stroke-width="0.6"/>
<rect x="430.1" y="483.5" width="12.3" height="104.7" fill="#f582f8" stroke="#a864b0" stroke-width="0.6"/>
<rect x="449.6" y="486.5" width="12.3" height="101.7" fill="#0898f6" stroke="#2a6a9a" stroke-width="0.6"/>
<rect x="469.1" y="532.8" width="12.3" height="55.4" fill="#fca09d" stroke="#b88a88" stroke-width="0.6"/>
<line x1="319" y1="461.4" x2="319" y2="588.8" stroke="#222" stroke-width="1.3" />
<line x1="318.4" y1="588.2" x2="488.6" y2="588.2" stroke="#222" stroke-width="1.3" />
<line x1="351.5" y1="525.5" x2="351.5" y2="532.4" stroke="#555" stroke-width="0.7" />
<line x1="348.5" y1="525.5" x2="354.5" y2="525.5" stroke="#555" stroke-width="0.7" />
<line x1="371.2" y1="525.5" x2="371.2" y2="542.7" stroke="#555" stroke-width="0.7" />
<line x1="368.2" y1="525.5" x2="374.2" y2="525.5" stroke="#555" stroke-width="0.7" />
<line x1="436.2" y1="479.2" x2="436.2" y2="490.2" stroke="#555" stroke-width="0.7" />
<line x1="455.7" y1="479.2" x2="455.7" y2="494" stroke="#555" stroke-width="0.7" />
<line x1="452.7" y1="494" x2="458.7" y2="494" stroke="#555" stroke-width="0.7" />
<line x1="475.3" y1="526" x2="475.3" y2="540" stroke="#555" stroke-width="0.7" />
<line x1="472.3" y1="526" x2="478.3" y2="526" stroke="#555" stroke-width="0.7" />
<line x1="472.3" y1="540" x2="478.3" y2="540" stroke="#555" stroke-width="0.7" />
<circle cx="351.5" cy="521.8" r="1.95" fill="#fff" stroke="#1a1a1a" stroke-width="0.8"/>
<circle cx="346.6" cy="532.4" r="1.95" fill="#fff" stroke="#1a1a1a" stroke-width="0.8"/>
<circle cx="349.9" cy="532.4" r="1.95" fill="#fff" stroke="#1a1a1a" stroke-width="0.8"/>
<circle cx="353.2" cy="532.4" r="1.95" fill="#fff" stroke="#1a1a1a" stroke-width="0.8"/>
<circle cx="356.5" cy="532.4" r="1.95" fill="#fff" stroke="#1a1a1a" stroke-width="0.8"/>
<circle cx="351.5" cy="542.7" r="1.95" fill="#fff" stroke="#1a1a1a" stroke-width="0.8"/>
<circle cx="371.2" cy="521.8" r="1.95" fill="#fff" stroke="#1a1a1a" stroke-width="0.8"/>
<circle cx="367.9" cy="532.4" r="1.95" fill="#fff" stroke="#1a1a1a" stroke-width="0.8"/>
<circle cx="374.3" cy="532.4" r="1.95" fill="#fff" stroke="#1a1a1a" stroke-width="0.8"/>
<circle cx="366.5" cy="542.7" r="1.95" fill="#fff" stroke="#1a1a1a" stroke-width="0.8"/>
<circle cx="371.2" cy="542.7" r="1.95" fill="#fff" stroke="#1a1a1a" stroke-width="0.8"/>
<circle cx="375.9" cy="542.7" r="1.95" fill="#fff" stroke="#1a1a1a" stroke-width="0.8"/>
<circle cx="431.6" cy="479.2" r="1.95" fill="#fff" stroke="#1a1a1a" stroke-width="0.8"/>
<circle cx="434.6" cy="479.2" r="1.95" fill="#fff" stroke="#1a1a1a" stroke-width="0.8"/>
<circle cx="437.8" cy="479.2" r="1.95" fill="#fff" stroke="#1a1a1a" stroke-width="0.8"/>
<circle cx="440.9" cy="479.2" r="1.95" fill="#fff" stroke="#1a1a1a" stroke-width="0.8"/>
<circle cx="434.6" cy="490.2" r="1.95" fill="#fff" stroke="#1a1a1a" stroke-width="0.8"/>
<circle cx="437.8" cy="490.2" r="1.95" fill="#fff" stroke="#1a1a1a" stroke-width="0.8"/>
<circle cx="451.5" cy="479.2" r="1.95" fill="#fff" stroke="#1a1a1a" stroke-width="0.8"/>
<circle cx="455.7" cy="479.2" r="1.95" fill="#fff" stroke="#1a1a1a" stroke-width="0.8"/>
<circle cx="459.9" cy="479.2" r="1.95" fill="#fff" stroke="#1a1a1a" stroke-width="0.8"/>
<circle cx="453.4" cy="490.2" r="1.95" fill="#fff" stroke="#1a1a1a" stroke-width="0.8"/>
<circle cx="458" cy="490.2" r="1.95" fill="#fff" stroke="#1a1a1a" stroke-width="0.8"/>
<circle cx="455.7" cy="500.3" r="1.95" fill="#fff" stroke="#1a1a1a" stroke-width="0.8"/>
<circle cx="475.3" cy="521.4" r="1.95" fill="#fff" stroke="#1a1a1a" stroke-width="0.8"/>
<circle cx="471" cy="532" r="1.95" fill="#fff" stroke="#1a1a1a" stroke-width="0.8"/>
<circle cx="474.2" cy="532" r="1.95" fill="#fff" stroke="#1a1a1a" stroke-width="0.8"/>
<circle cx="477.4" cy="532" r="1.95" fill="#fff" stroke="#1a1a1a" stroke-width="0.8"/>
<circle cx="480.5" cy="532" r="1.95" fill="#fff" stroke="#1a1a1a" stroke-width="0.8"/>
<circle cx="475.3" cy="542.6" r="1.95" fill="#fff" stroke="#1a1a1a" stroke-width="0.8"/>
<rect x="326.35" y="586.25" width="11.8" height="3.9" rx="1.95" fill="#0c8a48" stroke="#0a1a10" stroke-width="0.9"/>
<line x1="329.71" y1="586.45" x2="329.71" y2="589.95" stroke="#0a1a10" stroke-width="0.8" />
<line x1="332.25" y1="586.45" x2="332.25" y2="589.95" stroke="#0a1a10" stroke-width="0.8" />
<line x1="334.79" y1="586.45" x2="334.79" y2="589.95" stroke="#0a1a10" stroke-width="0.8" />
<rect x="403.95" y="586.25" width="12.5" height="3.9" rx="1.95" fill="#0c8a48" stroke="#0a1a10" stroke-width="0.9"/>
<line x1="407.52" y1="586.45" x2="407.52" y2="589.95" stroke="#0a1a10" stroke-width="0.8" />
<line x1="410.2" y1="586.45" x2="410.2" y2="589.95" stroke="#0a1a10" stroke-width="0.8" />
<line x1="412.88" y1="586.45" x2="412.88" y2="589.95" stroke="#0a1a10" stroke-width="0.8" />
<rect x="384.85" y="586.25" width="11.8" height="3.9" rx="1.95" fill="#fafafa" stroke="#1a1a1a" stroke-width="0.9"/>
<line x1="388.21" y1="586.45" x2="388.21" y2="589.95" stroke="#1a1a1a" stroke-width="0.8" />
<line x1="390.75" y1="586.45" x2="390.75" y2="589.95" stroke="#1a1a1a" stroke-width="0.8" />
<line x1="393.29" y1="586.45" x2="393.29" y2="589.95" stroke="#1a1a1a" stroke-width="0.8" />
<polyline points="327.4,599.3 327.4,602.3 395.2,602.3 395.2,599.3" fill="none" stroke="#333" stroke-width="1.0"/>
<text x="363.7" y="613.3" font-size="10" text-anchor="middle" font-style="italic" fill="#27a4c8" textLength="20.6" lengthAdjust="spacing" stroke="#27a4c8" stroke-width="0.25">d.14</text>
<polyline points="407.6,599.3 407.6,602.3 481.2,602.3 481.2,599.3" fill="none" stroke="#333" stroke-width="1.0"/>
<text x="447.8" y="613.3" font-size="10" text-anchor="middle" font-style="italic" fill="#27a4c8" textLength="20.6" lengthAdjust="spacing" stroke="#27a4c8" stroke-width="0.25">d.39</text>
<polyline points="352.8,514.5 374.1,514.5" fill="none" stroke="#2a2a2a" stroke-width="0.95"/>
<polyline points="363.5,514.5 363.5,511.5 391.5,511.5 391.5,580" fill="none" stroke="#2a2a2a" stroke-width="0.95"/>
<text x="377.4" y="506.8" font-size="7.8" text-anchor="middle" font-style="italic" fill="#222" stroke="#222" stroke-width="0.1">p=0.0022</text>
<polyline points="438.3,473.5 459.9,473.5" fill="none" stroke="#2a2a2a" stroke-width="0.95"/>
<polyline points="448.5,473.5 448.5,469.5 477.5,469.5 477.5,514.9" fill="none" stroke="#2a2a2a" stroke-width="0.95"/>
<text x="462.4" y="465.1" font-size="7.8" text-anchor="middle" font-style="italic" fill="#222" stroke="#222" stroke-width="0.1">p=0.0022</text>
<rect x="490" y="463.4" width="9.6" height="5.8" fill="#10c020" stroke="#555" stroke-width="0.5"/>
<text x="503" y="469" font-size="6.7" fill="#2a2a2a" stroke="#2a2a2a" stroke-width="0.12">PBS <tspan font-style="italic">(n=6)</tspan></text>
<rect x="490" y="471.95" width="9.6" height="5.8" fill="#f582f8" stroke="#555" stroke-width="0.5"/>
<text x="503" y="477.55" font-size="6.7" fill="#2a2a2a" stroke="#2a2a2a" stroke-width="0.12">mRNA-4 <tspan font-style="italic">(n=6)</tspan></text>
<rect x="490" y="480.5" width="9.6" height="5.8" fill="#0898f6" stroke="#555" stroke-width="0.5"/>
<text x="503" y="486.1" font-size="6.7" fill="#2a2a2a" stroke="#2a2a2a" stroke-width="0.12">mRNA-5 <tspan font-style="italic">(n=6)</tspan></text>
<rect x="490" y="489.05" width="9.6" height="5.8" fill="#fca09d" stroke="#555" stroke-width="0.5"/>
<text x="503" y="494.65" font-size="6.7" fill="#2a2a2a" stroke="#2a2a2a" stroke-width="0.12">SIIV <tspan font-style="italic">(n=6)</tspan></text>
<text x="275.9" y="16.4" font-size="17.5" text-anchor="start" font-weight="bold" fill="#111" textLength="22" lengthAdjust="spacingAndGlyphs" stroke="#111" stroke-width="0.35">(b)</text>
<text x="23.8" y="213.3" font-size="17.5" text-anchor="start" font-weight="bold" fill="#111" textLength="21.2" lengthAdjust="spacingAndGlyphs" stroke="#111" stroke-width="0.35">(c)</text>
<text x="274.6" y="213.3" font-size="17.5" text-anchor="start" font-weight="bold" fill="#111" textLength="22" lengthAdjust="spacingAndGlyphs" stroke="#111" stroke-width="0.35">(d)</text>
<text x="23.8" y="430.3" font-size="17.5" text-anchor="start" font-weight="bold" fill="#111" textLength="21.2" lengthAdjust="spacingAndGlyphs" stroke="#111" stroke-width="0.35">(e)</text>
<text x="275.9" y="427.8" font-size="17.5" text-anchor="start" font-weight="bold" fill="#111" textLength="17.6" lengthAdjust="spacingAndGlyphs" stroke="#111" stroke-width="0.35">(f)</text>
</svg>
</body></html>
